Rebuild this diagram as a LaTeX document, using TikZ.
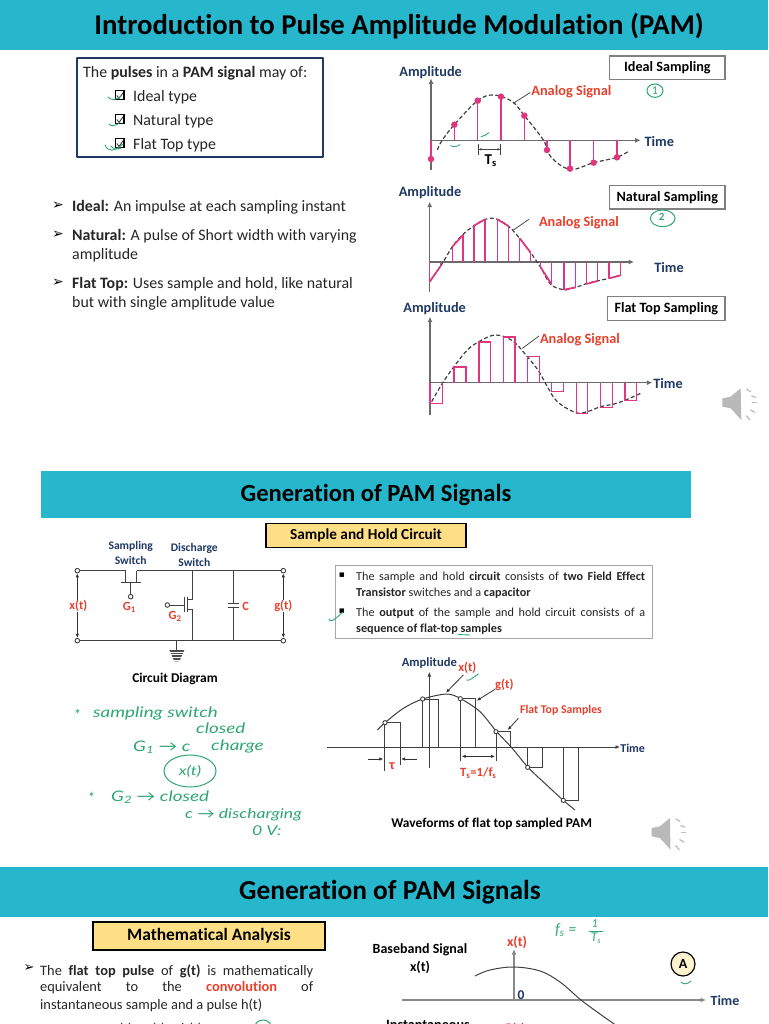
\documentclass[tikz,border=0pt]{standalone}
\usepackage{fontspec}
\setmainfont{Carlito}[Ligatures=NoCommon]
\newfontfamily\dejavu{DejaVu Sans}
\newfontfamily\handfont{Lato}
\usetikzlibrary{arrows.meta,calc}
\definecolor{teal1}{HTML}{27B7CC}
\definecolor{navyt}{HTML}{1F3864}
\definecolor{redt}{HTML}{E8402C}
\definecolor{pinkl}{HTML}{E0357F}
\definecolor{yel}{HTML}{FFDF85}
\definecolor{greent}{HTML}{2FA673}
\definecolor{bodyt}{HTML}{262626}
\definecolor{axisg}{HTML}{6A6A6A}
\newcommand{\fs}[1]{\fontsize{#1}{#1}\selectfont}
\newcommand{\wide}[1]{\scalebox{1.3}[1]{#1}}
\tikzset{
  banner/.style={fill=teal1,draw=none},
  titletext/.style={text=black,font=\bfseries\fs{#1},inner sep=0pt,yshift=-1pt},
  body/.style={text=bodyt,anchor=west,inner sep=0pt,font=\fs{15.9},yshift=-1.5pt},
  small/.style={text=bodyt,anchor=west,inner sep=0pt,font=\fs{12.2},yshift=-1pt},
  amp/.style={text=navyt,font=\bfseries\fs{14.3},inner sep=0pt,yshift=-1.5pt},
  red lab/.style={text=redt,font=\bfseries\fs{14.3},inner sep=0pt,yshift=-1.5pt},
  caption/.style={text=black,font=\bfseries\fs{13.4},inner sep=0pt,yshift=-1pt},
  tagbox/.style={draw=gray,line width=1.1pt,fill=white,text=black,font=\bfseries\fs{14.2},inner sep=0pt},
  yelbox/.style={draw=black,line width=1.2pt,fill=yel,text=black,font=\bfseries\fs{15.3},inner sep=0pt},
  axis line/.style={draw=axisg,line width=1.3pt,-{Latex[length=5.5pt,width=5pt]}},
  dash curve/.style={draw=black!75,line width=1.2pt,dash pattern=on 4pt off 2.4pt},
  pulse/.style={draw=pinkl,line width=1.5pt},
  dot/.style={circle,fill=pinkl,inner sep=0pt,minimum size=6.5pt},
  pointer/.style={draw=black!70,line width=.8pt},
  wire/.style={draw=black!75,line width=1pt},
  term/.style={circle,draw=black!75,fill=white,line width=.9pt,inner sep=0pt,minimum size=4.6pt},
  blk arrow/.style={draw=black!80,line width=.8pt,-{Latex[length=4pt,width=3.5pt]}},
  hand/.style={text=greent,anchor=west,inner sep=0pt,font=\handfont\itshape\fs{#1}},
  hand line/.style={draw=greent,line width=.9pt,line cap=round,line join=round},
  gridscope/.style={x=.33333pt,y=-.33333pt},
}
\newcommand{\speaker}[1]{%
  \begin{scope}[shift={#1},gridscope]
    \fill[gray!55] (0,30) -- (25,25) -- (55,0) -- (57,95) -- (25,60) -- (0,55) -- cycle;
    \foreach \a/\b/\c/\d in {73/3/85/10,88/23/100/27,90/43/103/43,85/65/97/72,73/83/83/95}
      \draw[gray!50,line width=1.3pt,line cap=round] (\a,\b) -- (\c,\d);
  \end{scope}}
\newcommand{\checkbox}[1]{%
  \begin{scope}[shift={#1}]
    \draw[black,line width=.9pt,fill=white] (0,0) rectangle (9,9);
    \draw[black,line width=1.6pt] (0,9) -- (9,9) -- (9,1);
    \draw[black!85,line width=.8pt] (2,5) -- (4,8) -- (9,1);
  \end{scope}}
\begin{document}
\begin{tikzpicture}[x=1pt,y=-1pt]
\useasboundingbox (0,0) rectangle (768,1024);
\clip (0,0) rectangle (768,1024);
\fill[white] (0,0) rectangle (768,1024);

%% ---------------- slide 1
\fill[banner] (0,0) rectangle (768,50);
\node[titletext=28.7] (t1) at (399,25) {Introduction to Pulse Amplitude Modulation (PAM)};

\draw[navyt,line width=1.8pt,fill=white,rounded corners=.5pt] (77,58) rectangle (323,157);
\node[body] (b0) at (83,72) {The \textbf{pulses} in a \textbf{PAM signal} may of:};
\node[body] (b1) at (133,96) {Ideal type};
\node[body] (b2) at (133,120) {Natural type};
\node[body] (b3) at (133,144) {Flat Top type};
\checkbox{(115,90.5)}\checkbox{(115,114.5)}\checkbox{(115,138.5)}
\draw[hand line] (108,97) .. controls (111,101) and (117,100) .. (121,96);
\draw[hand line] (109,124) .. controls (110,127) and (117,126) .. (120,122);
\draw[hand line] (105,145) .. controls (108,152) and (114,152) .. (123,144) (111,146) .. controls (113,149) and (117,150) .. (121,148);

\foreach \yy/\nm in {206/a,283/c,235/b}
  \node[text=black,inner sep=0pt,font=\dejavu\fs{14}] (bul\nm) at (58,\yy) {➢};
\node[body] (p1) at (72,206) {\textbf{Ideal:} An impulse at each sampling instant};
\node[body] (p2) at (72,235) {\textbf{Natural:} A pulse of Short width with varying};
\node[body] (p3) at (72,254) {amplitude};
\node[body] (p4) at (72,283) {\textbf{Flat Top:} Uses sample and hold, like natural};
\node[body] (p5) at (72,302) {but with single amplitude value};

%% graph 1
\begin{scope}[shift={(384,50)},gridscope]
  \draw[axis line] (141,360) -- (141,85);
  \draw[axis line] (141,271) -- (770,271);
  \draw[dash curve] plot[smooth,tension=.6] coordinates {(160,300) (175,270) (211,224) (281,152) (330,135) (385,155) (421,197) (478,270) (500,320) (558,358) (629,338) (699,322) (735,303)};
  \foreach \x/\y in {141/327,211/224,281/152,351/140,421/197,489/300,558/356,629/338,699/322}{
    \draw[pulse] (\x,271) -- (\x,\y);
    \node[dot] at (\x,\y) {};
  }
  \node[amp] (amp1) at (140,63) {Amplitude};
  \node[red lab] (an1) at (562,120) {Analog Signal};
  \node[amp] (tm1) at (826,269) {Time};
  \draw[pointer] (an1.west) ++(-3,3) -- (388,160);
  \draw[black!75,line width=.7pt] (283,282) -- (283,315) (350,282) -- (350,315);
  \draw[black!75,line width=.7pt,{Latex[length=3pt,width=2.5pt]}-{Latex[length=3pt,width=2.5pt]}] (283,298) -- (350,298);
  \node[text=black,font=\bfseries\fs{15},inner sep=0pt] (ts1) at (320,332) {T\textsubscript{s}};
  \node[tagbox,minimum width=115.3pt,minimum height=23.3pt] (tag1) at (850,53) {Ideal Sampling};
  \draw[greent,line width=1pt] (813,122) ellipse [x radius=24,y radius=20];
  \node[text=greent,font=\fs{12},inner sep=0pt] (n1) at (813,122) {1};
  \draw[hand line] (200,287) .. controls (208,292) and (220,290) .. (228,284);
  \draw[hand line] (291,260) .. controls (298,259) and (308,254) .. (315,248);
\end{scope}

%% graphs 2, 3
\begin{scope}[shift={(384,180)},gridscope]
  \draw[axis line] (137,335) -- (137,65);
  \draw[axis line] (137,246) -- (750,246);
  \draw[dash curve] plot[smooth,tension=.6] coordinates {(137,305) (175,250) (205,200) (235,165) (270,137) (303,118) (320,115) (340,118) (373,138) (407,175) (440,218) (470,262) (500,313) (540,329) (575,322) (610,310) (640,303) (675,295) (712,285)};
  \foreach \xa/\ya/\xb/\yb in {137/305/170/258,205/200/237/165,270/137/303/118,340/118/373/138,407/175/440/218,470/262/503/313,540/329/575/322,607/312/640/303,675/295/710/286}{
    \draw[pulse,line width=1.2pt] (\xa,246) -- (\xa,\ya);
    \draw[pulse,line width=1.2pt] (\xb,246) -- (\xb,\yb);
    \draw[pulse,line width=1.7pt] (\xa,\ya) -- (\xb,\yb);
  }
  \node[amp] (amp2) at (138,33) {Amplitude};
  \node[red lab] (an2) at (585,124) {Analog Signal};
  \node[amp] (tm2) at (855,259) {Time};
  \draw[pointer] (435,118) -- (388,150);
  \node[tagbox,minimum width=115.3pt,minimum height=23.3pt] (tag2) at (850,52) {Natural Sampling};
  \draw[greent,line width=1pt] (836,115) ellipse [x radius=37,y radius=25];
  \node[text=greent,font=\bfseries\fs{11},inner sep=0pt] (n2) at (833,112) {2};

  \draw[axis line] (138,705) -- (138,410);
  \draw[axis line] (138,608) -- (805,608);
  \draw[dash curve] plot[smooth,tension=.6] coordinates {(143,665) (175,610) (210,560) (250,510) (290,482) (335,465) (385,482) (430,530) (465,575) (490,620) (520,665) (575,698) (610,695) (650,680) (690,672) (725,660) (770,640)};
  \foreach \xa/\xb/\yy in {138/175/670,210/246/561,285/320/486,358/393/471,430/466/529,503/538/635,577/610/700,650/685/682,723/758/662}
    \draw[pulse] (\xa,608) -- (\xa,\yy) -- (\xb,\yy) -- (\xb,608);
  \node[amp] (amp3) at (152,381) {Amplitude};
  \node[red lab] (an3) at (588,474) {Analog Signal};
  \node[amp] (tm3) at (852,607) {Time};
  \draw[pointer] (465,468) -- (415,505);
  \node[tagbox,minimum width=117.3pt,minimum height=23.7pt] (tag3) at (847,386) {Flat Top Sampling};
\end{scope}
\speaker{(722.3,388.3)}

%% ---------------- slide 2
\fill[banner] (41,471) rectangle (691,518);
\node[titletext=24.6] (t2) at (376,494) {Generation of PAM Signals};
\node[yelbox,minimum width=200pt,minimum height=24.5pt] (sh) at (366,535.5) {Sample and Hold Circuit};

%% circuit
\begin{scope}[shift={(40,520)},gridscope]
  \node[term] (tl) at (112,152) {};
  \node[term] (bl) at (112,362) {};
  \node[term] (tr) at (730,152) {};
  \node[term] (br) at (730,362) {};
  \node[term] (g1) at (272,230) {};
  \node[term] (g2) at (382,255) {};
  \coordinate (swa) at (255,152);
  \coordinate (swb) at (290,152);
  \draw[wire] (tl) -- (swa) -- (255,187) (swb) -- (290,187) (swb) -- (tr);
  \draw[wire] (243,187) -- (302,187) (272,187) -- (g1);
  \draw[wire] (bl) -- (br);
  \draw[wire] (457,152) -- (457,238) -- (441,238) (441,268) -- (457,268) -- (457,362);
  \draw[wire] (433,232) -- (433,275) (441,232) -- (441,275) (g2) -- (433,255);
  \draw[wire] (580,152) -- (580,250) (563,250) -- (597,250) (563,263) -- (597,263) (580,263) -- (580,362);
  \draw[wire] (410,362) -- (410,390);
  \fill[black!70] (388,390) -- (433,390) -- (418,424) -- (403,424) -- cycle;
  \foreach \yy in {396,404,412,420}
    \draw[white,line width=.8pt] (385,\yy) -- (436,\yy);
  \node[text=navyt,font=\bfseries\fs{11.6},inner sep=0pt,align=center] (ss) at (272,100) {Sampling\\[3.5pt]Switch};
  \node[text=navyt,font=\bfseries\fs{11.6},inner sep=0pt,align=center] (ds) at (463,104) {Discharge\\[3.5pt]Switch};
  \node[red lab,font=\bfseries\fs{12.5}] (xt) at (115,254) {x(t)};
  \node[red lab,font=\bfseries\fs{12.5}] (gt) at (730,254) {g(t)};
  \node[red lab,font=\bfseries\fs{12.5}] (G1) at (268,258) {G\textsubscript{1}};
  \node[red lab,font=\bfseries\fs{12.5}] (G2) at (405,285) {G\textsubscript{2}};
  \node[red lab,font=\bfseries\fs{12.5}] (Cl) at (617,254) {C};
  \draw[blk arrow] (xt.north -| tl) -- (tl);
  \draw[blk arrow] (xt.south -| bl) -- (bl);
  \draw[blk arrow] (gt.north -| tr) -- (tr);
  \draw[blk arrow] (gt.south -| br) -- (br);
  \node[caption] (cd) at (405,475) {Circuit Diagram};
\end{scope}

%% text box slide 2
\draw[gray!70,line width=.9pt,fill=white] (335,565) rectangle (652,638);
\node[text=black,font=\dejavu\fs{9},inner sep=0pt] (s1) at (342,575.5) {▪};
\node[text=black,font=\dejavu\fs{9},inner sep=0pt] (s2) at (342,611.5) {▪};
\node[small] (l1) at (356,576) {\makebox[289pt][s]{The sample and hold \textbf{circuit} consists of \textbf{two Field Effect}}};
\node[small] (l2) at (356,592) {\textbf{Transistor} switches and a \textbf{capacitor}};
\node[small] (l3) at (356,612) {\makebox[289pt][s]{The \textbf{output} of the sample and hold circuit consists of a}};
\node[small] (l4) at (356,628) {\textbf{sequence of flat-top samples}};
\draw[hand line] (329,619) .. controls (330,623) and (333,621) .. (343,612);
\draw[hand line] (458,634.5) -- (470,635);

%% waveform
\begin{scope}[shift={(320,650)},gridscope]
  \draw[wire,-{Latex[length=4.5pt,width=4pt]}] (22,291) -- (900,291);
  \draw[wire,-{Latex[length=5pt,width=4pt]}] (328,355) -- (328,65);
  \draw[wire] plot[smooth,tension=.5] coordinates {(172,240) (195,218) (250,175) (308,147) (380,132) (422,146) (480,185) (530,245) (575,293) (625,353) (680,405) (730,451) (765,480)};
  \draw[wire] (192,362) -- (192,217) -- (240,217) -- (240,345);
  \draw[wire] (308,291) -- (308,147) -- (355,147) -- (355,291);
  \draw[wire] (422,332) -- (422,146) -- (467,146) -- (467,291);
  \draw[wire] (528,333) -- (528,245) -- (572,245) -- (572,291);
  \draw[wire] (622,291) -- (622,353) -- (667,353) -- (667,291);
  \draw[wire] (730,291) -- (730,452) -- (775,452) -- (775,291);
  \foreach \x/\y in {195/218,308/147,421/146,528/245,623/352,730/451}
    \node[term,minimum size=4.2pt] at (\x,\y) {};
  \draw[blk arrow] (143,327) -- (190,327);
  \draw[blk arrow] (290,327) -- (243,327);
  \draw[blk arrow,{Latex[length=4pt,width=3.5pt]}-{Latex[length=4pt,width=3.5pt]}] (425,319) -- (525,319);
  \node[amp,font=\bfseries\fs{12.6}] (amp4) at (328,35) {Amplitude};
  \node[red lab,font=\bfseries\fs{12.6}] (x4) at (442,49) {x(t)};
  \node[red lab,font=\bfseries\fs{12.6}] (g4) at (553,100) {g(t)};
  \node[red lab,font=\bfseries\fs{11.8}] (f4) at (723,175) {Flat Top Samples};
  \node[amp,font=\bfseries\fs{12}] (tm4) at (938,289) {Time};
  \node[red lab,font=\bfseries\fs{14}] (tau) at (216,344) {τ};
  \node[red lab,font=\bfseries\fs{12.6}] (ts4) at (475,364) {T\textsubscript{s}=1/f\textsubscript{s}};
  \draw[blk arrow] (430,75) -- (378,128);
  \draw[blk arrow] (525,118) -- (470,152);
  \draw[blk arrow] (595,205) -- (563,240);
  \node[caption] (wf) at (515,518) {Waveforms of flat top sampled PAM};
  \draw[hand line] (440,90) .. controls (447,95) and (462,80) .. (475,72);
\end{scope}
\speaker{(651.5,818)}

%% handwriting
\node[hand=15] (h1) at (74,715) {*};
\node[hand=14.5] (h2) at (93,713) {\wide{sampling switch}};
\node[hand=14.5] (h4) at (196,728) {\wide{closed}};
\node[hand=14.5] (h5) at (133,747) {\wide{G\textsubscript{1} → c}};
\node[hand=14.5] (h6) at (211,746) {\wide{charge}};
\draw[greent,line width=1pt] (190,771) ellipse [x radius=26,y radius=16];
\node[hand=13,anchor=center] (h7) at (190,771) {\wide{x(t)}};
\node[hand=15] (h8) at (88,798) {*};
\node[hand=14.5] (h9) at (111,797) {\wide{G\textsubscript{2} → closed}};
\node[hand=13.5] (h10) at (185,815) {\wide{c → discharging}};
\node[hand=13.5] (h11) at (252,831) {\wide{0 V:}};

%% ---------------- slide 3
\fill[banner] (0,867) rectangle (768,917);
\node[titletext=27.4] (t3) at (390,891) {Generation of PAM Signals};
\node[yelbox,minimum width=232pt,minimum height=28pt,line width=1.4pt,font=\bfseries\fs{17.4}] (ma) at (209,936) {Mathematical Analysis};

\node[text=black,inner sep=0pt,font=\dejavu\fs{13}] (bul3) at (29,968) {➢};
\node[body,font=\fs{14.4}] (m1) at (40,970) {\makebox[273pt][s]{The \textbf{flat top pulse} of \textbf{g(t)} is mathematically}};
\node[body,font=\fs{14.4}] (m2) at (40,986.5) {\makebox[273pt][s]{equivalent to the \textcolor{redt}{\textbf{convolution}} of}};
\node[body,font=\fs{14.4}] (m3) at (40,1004) {instantaneous sample and a pulse h(t)};
\node[body,font=\fs{14.4}] (m4) at (112,1028) {g(t) = s(t) {\dejavu\fs{11}⊗} h(t)};
\draw[greent,line width=1pt] (263,1029) circle (9);

\draw[axis line,draw=axisg!80] (402,1000) -- (706,1000);
\draw[axis line,draw=axisg!80] (514,1000) -- (514,949);
\draw[black!75,line width=1pt] plot[smooth,tension=.6] coordinates {(475,976) (490,970) (514,967) (540,971) (560,982) (581,1000) (600,1014) (617,1026)};
\node[red lab,font=\bfseries\fs{14}] (x5) at (517,941) {x(t)};
\node[text=black,font=\bfseries\fs{14},inner sep=0pt,align=center] (bb) at (420,959) {Baseband Signal\\[4pt]x(t)};
\node[amp,font=\bfseries\fs{13.5}] (zero) at (521,994) {0};
\node[amp,font=\bfseries\fs{14}] (tm5) at (725,999) {Time};
\node[circle,draw=black,line width=1.2pt,fill=yel!40,font=\bfseries\fs{14},inner sep=0pt,minimum size=24pt] (A) at (683,964) {A};
\draw[hand line] (681,982) .. controls (684,985) and (688,984) .. (691,981);
\node[hand=15,anchor=center] (fsg) at (566,930) {f\textsubscript{s} =};
\node[hand=11,anchor=center] (fsn) at (595,924) {1};
\node[hand=12,anchor=center] (fsd) at (596,938) {T\textsubscript{s}};
\draw[hand line] (589,931) -- (603,931);
\node[text=black,font=\bfseries\fs{14.2},inner sep=0pt] (inst) at (428,1025) {Instantaneous};
\node[red lab,font=\bfseries\fs{14}] (dl) at (515,1028) {δ(t)};
\end{tikzpicture}
\end{document}
